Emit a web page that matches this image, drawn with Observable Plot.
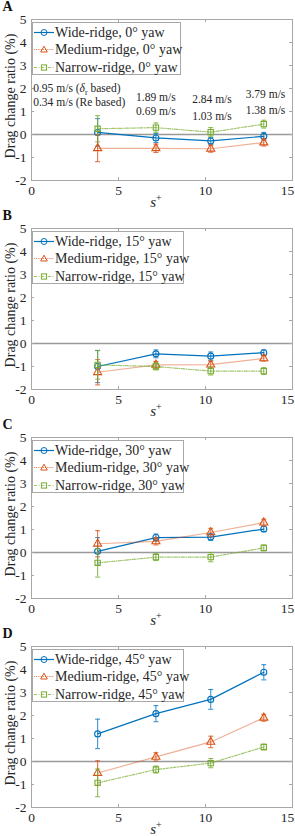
<!DOCTYPE html>
<html><head><meta charset="utf-8">
<script src="https://cdn.jsdelivr.net/npm/d3@7"></script>
<script src="https://cdn.jsdelivr.net/npm/@observablehq/plot@0.6"></script>
<style>
body{margin:0;background:#fff;width:295px;}
.panel{position:relative;width:295px;height:209px;}
.panel svg{display:block;}
.legend{position:absolute;background:#fff;border:1px solid #a8a8a8;box-sizing:border-box;font-family:"Liberation Serif",serif;font-size:14px;color:#262626;}
.legend .row{position:absolute;left:0;height:17px;line-height:17px;white-space:nowrap;}
.legend .row svg{position:absolute;left:0;top:0;}
.legend .row span{position:absolute;left:22px;top:0;}
</style></head><body><div id="chart"></div>
<script>
// ---- data ----
const sPlus = [3.8, 7.15, 10.3, 13.35];
const yawAngles = [0, 15, 30, 45];
const panelLetters = ["A", "B", "C", "D"];
const ridgeNames = ["Wide-ridge", "Medium-ridge", "Narrow-ridge"];
const xTicks = [0, 5, 10, 15];
const yTicks = [-2, -1, 0, 1, 2, 3, 4, 5];

const wide0 = [0.09, -0.15, -0.28, -0.08];
const wide0Err = [0.6, 0.2, 0.15, 0.17];
const medium0 = [-0.6, -0.6, -0.62, -0.35];
const medium0Err = [0.58, 0.18, 0.15, 0.15];
const narrow0 = [0.25, 0.3, 0.1, 0.45];
const narrow0Err = [0.57, 0.2, 0.2, 0.17];

const wide15 = [-1.0, -0.45, -0.55, -0.4];
const wide15Err = [0.7, 0.17, 0.18, 0.12];
const medium15 = [-1.25, -0.93, -0.92, -0.65];
const medium15Err = [0.55, 0.15, 0.15, 0.12];
const narrow15 = [-0.93, -1.0, -1.2, -1.2];
const narrow15Err = [0.62, 0.15, 0.17, 0.15];

const wide30 = [0.05, 0.65, 0.67, 1.02];
const wide30Err = [0.6, 0.15, 0.15, 0.12];
const medium30 = [0.38, 0.48, 0.87, 1.3];
const medium30Err = [0.57, 0.15, 0.18, 0.15];
const narrow30 = [-0.45, -0.2, -0.2, 0.2];
const narrow30Err = [0.62, 0.15, 0.2, 0.13];

const wide45 = [1.2, 2.08, 2.7, 3.88];
const wide45Err = [0.64, 0.35, 0.43, 0.33];
const medium45 = [-0.5, 0.2, 0.85, 1.9];
const medium45Err = [0.53, 0.18, 0.25, 0.15];
const narrow45 = [-0.93, -0.35, -0.07, 0.63];
const narrow45Err = [0.6, 0.15, 0.2, 0.12];

// panel A velocity annotations
const velDeltaLabels = ["0.95 m/s (δr based)", "1.89 m/s", "2.84 m/s", "3.79 m/s"];
const velReLabels = ["0.34 m/s (Re based)", "0.69 m/s", "1.03 m/s", "1.38 m/s"];
const velX = [0.1, 7.15, 10.37, 13.45];
const velDeltaY = [2.0, 1.6, 1.53, 1.73];
const velReY = [1.42, 1.0, 0.8, 1.05];

// ---- build ----
const values = [[wide0, medium0, narrow0], [wide15, medium15, narrow15], [wide30, medium30, narrow30], [wide45, medium45, narrow45]];
const errors = [[wide0Err, medium0Err, narrow0Err], [wide15Err, medium15Err, narrow15Err], [wide30Err, medium30Err, narrow30Err], [wide45Err, medium45Err, narrow45Err]];

const styles = [
  {color: "#0072BD", symbol: "circle", dash: null, opacity: 1, errOpacity: 0.75},
  {color: "#D95319", symbol: "triangle", dash: null, opacity: 0.45, errOpacity: 0.8},
  {color: "#77AC30", symbol: "square", dash: "3,1.5,1,1.5", opacity: 0.7, errOpacity: 0.8}
];
const capSymbol = {draw(context) { context.moveTo(-2.5, 0); context.lineTo(2.5, 0); }};

const W = 295, H = 209, mL = 31, mR = 3, mT = 19, mB = 29;
const innerW = W - mL - mR, innerH = H - mT - mB;
const axisGray = "#a8a8a8";
const tickFont = 13.5;
const root = document.getElementById("chart");

function legendSample(st) {
  let marker;
  if (st.symbol === "circle") marker = `<circle cx="11" cy="8.5" r="3" fill="none" stroke="${st.color}"/>`;
  else if (st.symbol === "triangle") marker = `<path d="M11,5.2L14.3,11L7.7,11Z" fill="none" stroke="${st.color}"/>`;
  else marker = `<rect x="8.4" y="5.9" width="5.2" height="5.2" fill="none" stroke="${st.color}"/>`;
  const dash = st.symbol === "triangle" ? "1.2,1" : (st.dash || "none");
  return `<svg width="22" height="17"><line x1="1" x2="21" y1="8.5" y2="8.5" stroke="${st.color}" stroke-opacity="${st.symbol === "triangle" ? 0.7 : st.opacity}" stroke-width="1.2" stroke-dasharray="${dash}"/>${marker}</svg>`;
}

yawAngles.forEach((yaw, pi) => {
  const rows = [];
  ridgeNames.forEach((name, si) => {
    values[pi][si].forEach((v, j) => {
      const e = errors[pi][si][j];
      rows.push({si, ridge: name, x: sPlus[j], y: v, lo: v - e, hi: v + e});
    });
  });

  const marks = [
    Plot.ruleY([0], {stroke: "#999", strokeWidth: 1.6}),
    Plot.tickY(yTicks, {y: d => d, insetRight: innerW - 3, stroke: axisGray}),
    Plot.tickY(yTicks, {y: d => d, insetLeft: innerW - 3, stroke: axisGray}),
    Plot.tickX(xTicks, {x: d => d, insetTop: innerH - 3, stroke: axisGray}),
    Plot.tickX(xTicks, {x: d => d, insetBottom: innerH - 3, stroke: axisGray}),
    Plot.axisY({ticks: yTicks, tickSize: 0, tickPadding: 5, label: null, tickFormat: d => String(d), fontSize: tickFont}),
    Plot.axisX({ticks: xTicks.slice(0, 3), tickSize: 0, tickPadding: 5, label: null, tickFormat: d => String(d), fontSize: tickFont}),
    Plot.axisX({ticks: xTicks.slice(3), tickSize: 0, tickPadding: 5, label: null, tickFormat: d => String(d), fontSize: tickFont, dx: -5}),
    Plot.text(["Drag change ratio (%)"], {frameAnchor: "left", rotate: -90, dx: -21, dy: -4, textAnchor: "middle", lineAnchor: "middle", fontSize: 14, fill: "#262626"}),
    Plot.text(["s+"], {frameAnchor: "bottom", dy: 22, dx: -6, textAnchor: "middle", lineAnchor: "middle", fontSize: 15, fontStyle: "italic", fill: "#262626"}),
    Plot.text([panelLetters[pi]], {frameAnchor: "top-left", dx: -29, dy: -13, textAnchor: "start", lineAnchor: "middle", fontSize: 14, fontWeight: "bold", fill: "#111"})
  ];

  styles.forEach((st, si) => {
    const d = rows.filter(r => r.si === si);
    marks.push(Plot.ruleX(d, {x: "x", y1: "lo", y2: "hi", stroke: st.color, strokeOpacity: st.errOpacity, strokeWidth: 1.1}));
    marks.push(Plot.dot(d, {x: "x", y: "lo", symbol: capSymbol, stroke: st.color, strokeOpacity: st.errOpacity, strokeWidth: 1.1}));
    marks.push(Plot.dot(d, {x: "x", y: "hi", symbol: capSymbol, stroke: st.color, strokeOpacity: st.errOpacity, strokeWidth: 1.1}));
    marks.push(Plot.line(d, {x: "x", y: "y", stroke: st.color, strokeOpacity: st.opacity, strokeWidth: 1.2, strokeDasharray: st.dash}));
    marks.push(Plot.dot(d, {x: "x", y: "y", symbol: st.symbol, r: 3, stroke: st.color, fill: "none", strokeWidth: 1.1}));
  });

  if (pi === 0) {
    const ann = velX.map((x, k) => ({x, top: velDeltaLabels[k], bottom: velReLabels[k], yTop: velDeltaY[k], yBottom: velReY[k], anchor: k === 0 ? "start" : "middle"}));
    const annFont = 11.5;
    marks.push(Plot.text(ann.filter(a => a.anchor === "start"), {x: "x", y: "yTop", text: "top", textAnchor: "start", fontSize: annFont, fill: "#262626"}));
    marks.push(Plot.text(ann.filter(a => a.anchor === "start"), {x: "x", y: "yBottom", text: "bottom", textAnchor: "start", fontSize: annFont, fill: "#262626"}));
    marks.push(Plot.text(ann.filter(a => a.anchor === "middle"), {x: "x", y: "yTop", text: "top", textAnchor: "middle", fontSize: annFont, fill: "#262626"}));
    marks.push(Plot.text(ann.filter(a => a.anchor === "middle"), {x: "x", y: "yBottom", text: "bottom", textAnchor: "middle", fontSize: annFont, fill: "#262626"}));
  }

  marks.push(Plot.frame({stroke: axisGray}));

  const svg = Plot.plot({
    width: W, height: H,
    marginLeft: mL, marginRight: mR, marginTop: mT, marginBottom: mB,
    x: {domain: [0, 15]},
    y: {domain: [-2, 5]},
    style: {fontFamily: "'Liberation Serif', serif", fontSize: "13px", color: "#262626", background: "white", overflow: "visible"},
    marks
  });

  svg.querySelectorAll("text").forEach(t => {
    if (t.textContent === "s+") {
      t.innerHTML = `s<tspan font-style="normal" font-size="10" dy="-6">+</tspan>`;
    } else if (t.textContent.includes("δr")) {
      t.innerHTML = `0.95 m/s (<tspan font-style="italic">δ</tspan><tspan font-size="8" dy="2.5">r</tspan><tspan dy="-2.5"> based)</tspan>`;
    }
  });

  const panel = document.createElement("div");
  panel.className = "panel";
  panel.appendChild(svg);

  const leg = document.createElement("div");
  leg.className = "legend";
  leg.style.left = "32px";
  leg.style.top = "22px";
  leg.style.width = (pi === 0 ? 149 : 152) + "px";
  leg.style.height = "53px";
  ridgeNames.forEach((name, si) => {
    const row = document.createElement("div");
    row.className = "row";
    row.style.top = (0.5 + si * 17.5) + "px";
    row.innerHTML = legendSample(styles[si]) + `<span>${name}, ${yaw}° yaw</span>`;
    leg.appendChild(row);
  });
  panel.appendChild(leg);
  root.appendChild(panel);
});
</script>
</body></html>
